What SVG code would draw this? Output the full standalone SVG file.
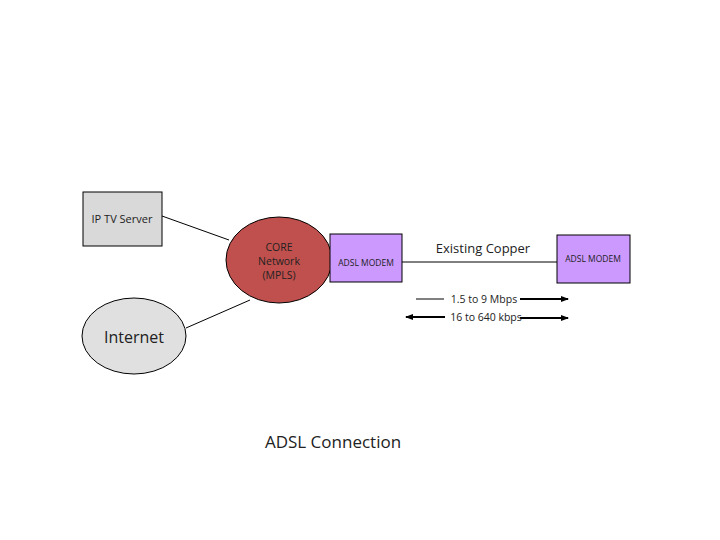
<svg xmlns="http://www.w3.org/2000/svg" width="720" height="540" viewBox="0 0 720 540">
<style>
text{font-family:"Open Sans","DejaVu Sans",sans-serif;fill:#222}
.b{stroke:#000;stroke-width:1}
.l{stroke:#000;stroke-width:1;fill:none}
.a{stroke:#000;stroke-width:2;fill:none}
</style>
<defs><marker id="ah" markerWidth="8" markerHeight="6" refX="7" refY="3" orient="auto" markerUnits="userSpaceOnUse"><path d="M0,0L8,3L0,6z" fill="#000"/></marker></defs>
<rect width="720" height="540" fill="#fff"/>
<g id="connectors">
<line class="l" x1="162" y1="216" x2="229" y2="240"/>
<line class="l" x1="186" y1="328" x2="250" y2="300"/>
<line class="l" x1="402" y1="262" x2="557" y2="262"/>
<line class="l" x1="416" y1="299" x2="444" y2="299"/>
<line class="a" x1="520" y1="299" x2="568" y2="299" marker-end="url(#ah)"/>
<line class="a" x1="445" y1="317" x2="406" y2="317" marker-end="url(#ah)"/>
<line class="a" x1="520" y1="318" x2="568" y2="318" marker-end="url(#ah)"/>
</g>
<g id="iptv"><rect class="b" x="83" y="192" width="79" height="54" fill="#d9d9d9"/><text x="122" y="223" font-size="11" text-anchor="middle">IP TV Server</text></g>
<g id="core"><ellipse class="b" cx="279" cy="260" rx="53" ry="43" fill="#c0504d"/>
<text x="279" y="251" font-size="10.5" text-anchor="middle">CORE</text>
<text x="279" y="265" font-size="10.5" text-anchor="middle">Network</text>
<text x="279" y="279" font-size="10.5" text-anchor="middle">(MPLS)</text></g>
<g id="modem1"><rect class="b" x="330" y="234" width="72" height="48" fill="#cc99ff"/><text x="366" y="266" font-size="8.5" text-anchor="middle">ADSL MODEM</text></g>
<g id="modem2"><rect class="b" x="557" y="235" width="73" height="48" fill="#cc99ff"/><text x="593" y="262" font-size="8.5" text-anchor="middle">ADSL MODEM</text></g>
<g id="internet"><ellipse class="b" cx="134" cy="336" rx="52" ry="38" fill="#e0e0e0"/><text x="134" y="343" font-size="16" text-anchor="middle">Internet</text></g>
<text x="483" y="253" font-size="13" text-anchor="middle">Existing Copper</text>
<text x="484" y="303" font-size="10.5" text-anchor="middle">1.5 to 9 Mbps</text>
<text x="486" y="321" font-size="10.5" text-anchor="middle">16 to 640 kbps</text>
<text x="333" y="448" font-size="17" text-anchor="middle">ADSL Connection</text>
</svg>
